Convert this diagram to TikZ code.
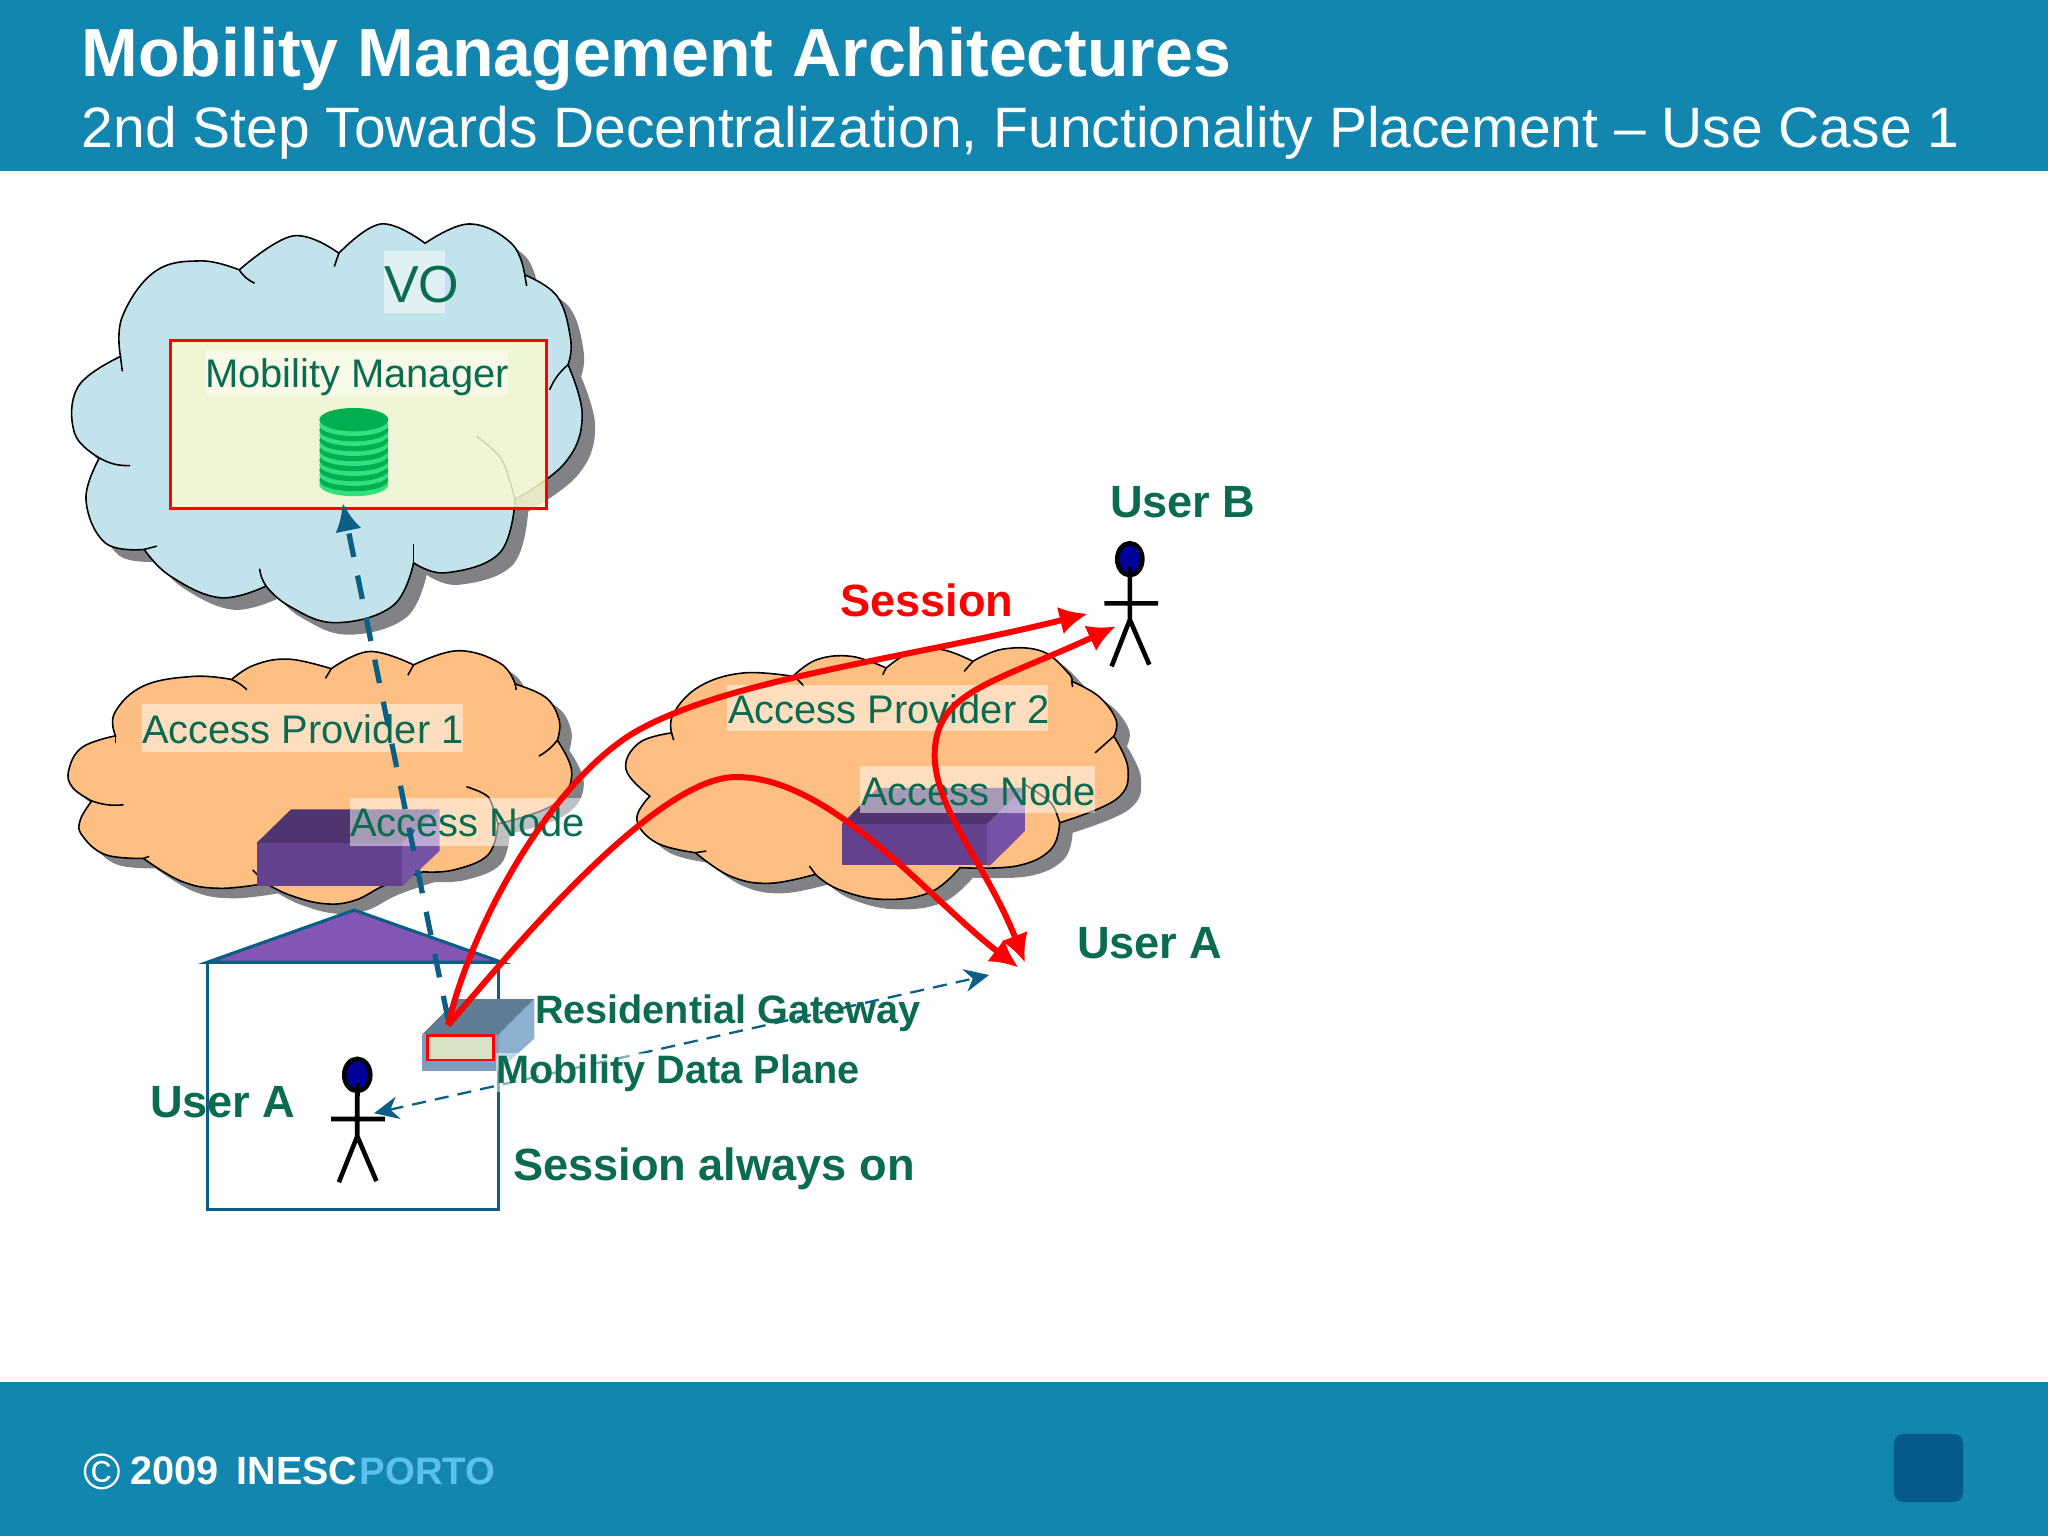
\documentclass[tikz,border=0pt]{standalone}
\usepackage{fontspec}
\setmainfont{Liberation Sans}
\usetikzlibrary{arrows.meta}
\definecolor{bar}{HTML}{1286AF}
\definecolor{tgreen}{HTML}{0B6B50}
\definecolor{navy}{HTML}{0B5F86}
\definecolor{shadowgray}{HTML}{808285}
\definecolor{skyc}{HTML}{C2E3EC}
\definecolor{orangec}{HTML}{FFBE82}
\tikzset{
 zone/.style={shift={(40,200)},x=0.003827cm,y=-0.003333cm},
 zonetwo/.style={shift={(40,640)},x=0.003827cm,y=-0.003827cm},
 zonefour/.style={shift={(600,460)},x=0.004337cm,y=-0.003333cm},
 lobe/.style={smooth,tension=.68},
 lbl/.style={anchor=base west,inner sep=0pt,outer sep=0pt,text=tgreen},
 reg/.style={lbl,font=\fontsize{11.35}{13}\selectfont},
 bld/.style={lbl,font=\fontsize{11.27}{14}\selectfont\bfseries},
 bldb/.style={lbl,font=\fontsize{12.85}{15}\selectfont\bfseries},
 hl/.style={fill=white,opacity=.5},
 cl/.style={draw=black,line width=.45pt},
 person/.style={draw=black,line width=1.3pt},
 redcurve/.style={draw=red,line width=1.7pt,line join=round},
 redtip/.style={-{Latex[length=8pt,width=8pt]}},
 redtips/.style={{Latex[length=8pt,width=8pt]}-{Latex[length=8pt,width=8pt]}},
}
\def\cloudVO{plot[lobe] coordinates {(210,470)(215,350)(300,215)(420,183)(520,210)}
 -- plot[lobe] coordinates {(520,210)(660,108)(780,160)}
 -- plot[lobe] coordinates {(780,160)(890,72)(1005,130)}
 -- plot[lobe] coordinates {(1005,130)(1120,72)(1230,130)(1265,225)}
 -- plot[lobe] coordinates {(1265,225)(1350,290)(1385,420)(1378,495)}
 -- plot[lobe] coordinates {(1378,495)(1415,650)(1370,790)(1240,900)}
 -- plot[lobe] coordinates {(1240,900)(1200,1060)(1060,1120)(975,1090)}
 -- plot[lobe] coordinates {(975,1090)(920,1220)(770,1270)(650,1220)(590,1160)}
 -- plot[lobe] coordinates {(590,1160)(470,1195)(340,1130)(272,1050)}
 -- plot[lobe] coordinates {(272,1050)(170,1030)(120,900)(155,775)}
 -- plot[lobe] coordinates {(155,775)(90,700)(100,560)(210,470)} -- cycle}
\def\cloudA{plot[lobe] coordinates {(197,250)(195,190)(270,120)(400,95)(500,103)}
 -- plot[lobe] coordinates {(500,103)(560,65)(650,50)(760,75)}
 -- plot[lobe] coordinates {(760,75)(860,30)(975,65)}
 -- plot[lobe] coordinates {(975,65)(1090,28)(1200,60)(1240,115)}
 -- plot[lobe] coordinates {(1240,115)(1320,150)(1355,210)(1350,262)}
 -- plot[lobe] coordinates {(1350,262)(1388,350)(1340,430)(1195,480)}
 -- plot[lobe] coordinates {(1195,480)(1170,560)(1080,600)(1000,605)}
 -- plot[lobe] coordinates {(1000,605)(900,640)(820,680)(740,688)(650,665)(590,635)}
 -- plot[lobe] coordinates {(590,635)(470,648)(370,630)(270,570)}
 -- plot[lobe] coordinates {(270,570)(170,560)(110,510)(105,470)(135,420)}
 -- plot[lobe] coordinates {(135,420)(85,385)(75,340)(110,280)(197,250)} -- cycle}
\def\cloudB{plot[lobe] coordinates {(165,820)(170,760)(230,680)(330,640)(445,650)}
 -- plot[lobe] coordinates {(445,650)(500,600)(580,590)(660,625)}
 -- plot[lobe] coordinates {(660,625)(720,575)(790,570)(860,605)}
 -- plot[lobe] coordinates {(860,605)(930,568)(1020,575)(1080,640)(1088,665)}
 -- plot[lobe] coordinates {(1088,665)(1150,710)(1190,780)(1185,830)}
 -- plot[lobe] coordinates {(1185,830)(1218,930)(1190,1020)(1060,1090)}
 -- plot[lobe] coordinates {(1060,1090)(1040,1170)(960,1220)(830,1225)}
 -- plot[lobe] coordinates {(830,1225)(760,1300)(650,1320)(550,1290)(497,1245)}
 -- plot[lobe] coordinates {(497,1245)(390,1272)(300,1250)(220,1180)}
 -- plot[lobe] coordinates {(220,1180)(130,1150)(85,1080)(115,1010)}
 -- plot[lobe] coordinates {(115,1010)(60,930)(90,850)(165,820)} -- cycle}
\begin{document}
\begin{tikzpicture}[x=0.01cm,y=-0.01cm]
\useasboundingbox (0,0) rectangle (2048,1536);
\fill[white] (0,0) rectangle (2048,1536);
\fill[bar] (0,0) rectangle (2048,171);
\fill[bar] (0,1382) rectangle (2048,1536);
\fill[rounded corners=.09cm,fill={rgb,255:red,5;green,89;blue,139}] (1894,1434) rectangle (1963,1502);
\node[anchor=base west,inner sep=0pt,text=white,font=\fontsize{19.35}{22}\selectfont\bfseries] (title) at (81,76) {Mobility Management Architectures};
\node[anchor=base west,inner sep=0pt,text=white,font=\fontsize{16.2}{20}\selectfont] (subtitle) at (81,147) {2nd Step Towards Decentralization, Functionality Placement – Use Case 1};
\node[anchor=base west,inner sep=0pt,text=white,font=\fontsize{14.5}{16}\selectfont] (copy) at (83,1489) {©};
\node[anchor=base west,inner sep=0pt,text=white,font=\fontsize{11.3}{13}\selectfont\bfseries] (year) at (130,1484) {2009};
\node[anchor=base west,inner sep=0pt,text=white,font=\fontsize{11.2}{13}\selectfont\bfseries] (inesc) at (236,1484) {INESC};
\node[anchor=base west,inner sep=0pt,text={rgb,255:red,91;green,192;blue,238},font=\fontsize{10.9}{13}\selectfont\bfseries] (porto) at (359,1484) {PORTO};
% VO cloud
\begin{scope}[zone]
 \fill[shadowgray,xshift=.13cm,yshift=-.12cm] \cloudVO;
 \fill[skyc] \cloudVO;
 \draw[cl] \cloudVO;
 \draw[cl] (520,210) to[bend right=15] (560,250);
 \draw[cl] (780,160) -- (768,200);
 \draw[cl] (1265,225) -- (1270,258);
 \draw[cl] (1378,495) to[bend right=12] (1330,570);
 \draw[cl] plot[smooth] coordinates {(1140,710)(1205,780)(1240,900)};
 \draw[cl] (975,1090) -- (975,1035);
 \draw[cl] (590,1160) to[bend left=12] (573,1108);
 \draw[cl] (272,1050) -- (305,1040);
 \draw[cl] (155,775) to[bend right=15] (235,798);
 \draw[cl] (210,470) -- (215,515);
 \fill[white,opacity=.5] (898,153) rectangle (1057,340);
 \fill[fill={rgb,255:red,248;green,250;blue,210},opacity=.85] (340,422) rectangle (1322,928);
 \fill[white,opacity=.45] (432,450) rectangle (1222,585);
 \draw[red,line width=.85pt] (340,422) rectangle (1322,928);
 % database
 \fill[fill={rgb,255:red,51;green,224;blue,127}] (730,668) rectangle (908,855);
 \fill[fill={rgb,255:red,51;green,224;blue,127}] (819,855) ellipse [x radius=90,y radius=35];
 \foreach \cy in {842,812,782,752,722,692} {
   \fill[fill={rgb,255:red,0;green,176;blue,80}] (819,\cy) ellipse [x radius=90,y radius=33];
   \fill[fill={rgb,255:red,51;green,224;blue,127}] (819,\cy-16) ellipse [x radius=90,y radius=33];
 }
 \fill[fill={rgb,255:red,0;green,176;blue,80}] (819,660) ellipse [x radius=90,y radius=35];
 \coordinate (mm) at (790,910);
\end{scope}
\node[lbl,font=\fontsize{14.8}{16}\selectfont] (vo) at (384,302) {VO};
\node[reg] (mmlabel) at (205,387) {Mobility Manager};
% AP1 cloud
\begin{scope}[zonetwo]
 \fill[shadowgray,xshift=.12cm,yshift=-.1cm] \cloudA;
 \fill[orangec] \cloudA;
 \draw[cl] \cloudA;
 \draw[cl] (500,103) to[bend left=10] (540,130);
 \draw[cl] (760,75) -- (745,100);
 \draw[cl] (975,65) -- (960,92);
 \draw[cl] (1240,115) -- (1243,130);
 \draw[cl] (1350,262) to[bend left=10] (1302,303);
 \draw[cl] plot[smooth] coordinates {(1113,383)(1170,410)(1195,480)};
 \draw[cl] (590,635) -- (555,600);
 \draw[cl] (270,570) -- (285,565);
 \draw[cl] (135,420) to[bend right=12] (218,430);
 \draw[cl] (197,250) -- (197,270);
 \fill[fill={rgb,255:red,79;green,53;blue,112}] (565,530) -- (655,442) -- (1043,442) -- (945,530) -- cycle;
 \fill[fill={rgb,255:red,99;green,65;blue,143}] (565,530) rectangle (945,643);
 \fill[fill={rgb,255:red,119;green,83;blue,168}] (945,530) -- (1043,442) -- (1043,550) -- (945,643) -- cycle;
 \fill[hl] (267,168) rectangle (1105,293);
 \fill[hl] (808,413) rectangle (1415,538);
\end{scope}
\node[reg] (ap1) at (142,743) {Access Provider 1};
\node[reg] (an1) at (350,836) {Access Node};
% AP2 cloud
\begin{scope}[zonefour]
 \fill[shadowgray,xshift=.13cm,yshift=-.1cm] \cloudB;
 \fill[orangec] \cloudB;
 \draw[cl] \cloudB;
 \draw[cl] (445,650) to[bend left=10] (470,680);
 \draw[cl] (660,625) -- (652,645);
 \draw[cl] (860,605) -- (840,635);
 \draw[cl] (1088,665) -- (1090,682);
 \draw[cl] (1185,830) -- (1142,880);
 \draw[cl] plot[smooth] coordinates {(980,975)(1040,1030)(1060,1090)};
 \draw[cl] (830,1225) -- (850,1225);
 \draw[cl] (497,1245) -- (483,1220);
 \draw[cl] (220,1180) -- (245,1175);
 \draw[cl] (165,820) -- (170,842);
 \fill[fill={rgb,255:red,79;green,53;blue,112}] (557,1095) -- (640,985) -- (980,985) -- (892,1095) -- cycle;
 \fill[fill={rgb,255:red,99;green,65;blue,143}] (557,1095) rectangle (892,1218);
 \fill[fill={rgb,255:red,119;green,83;blue,168}] (892,1095) -- (980,985) -- (980,1115) -- (900,1218) -- (892,1218) -- cycle;
 \fill[hl] (293,675) rectangle (1033,815);
 \fill[hl] (600,918) rectangle (1142,1062);
\end{scope}
\node[reg] (ap2) at (728,723) {Access Provider 2};
\node[reg] (an2) at (861,805) {Access Node};
% House
\begin{scope}[zonetwo]
 \filldraw[draw=navy,fill={rgb,255:red,131;green,86;blue,182},line width=.9pt,line join=miter] (437,841) -- (820,705) -- (1205,841) -- cycle;
 \draw[navy,line width=.9pt] (437,841) rectangle (1197,1487);
 \fill[fill={rgb,255:red,95;green,125;blue,149}] (997,1030) -- (1090,937) -- (1290,937) -- (1197,1030) -- cycle;
 \fill[fill={rgb,255:red,127;green,156;blue,191}] (997,1030) rectangle (1197,1125);
 \fill[fill={rgb,255:red,139;green,176;blue,208}] (1197,1030) -- (1290,937) -- (1290,1040) -- (1197,1125) -- cycle;
 \filldraw[draw=red,fill={rgb,255:red,216;green,224;blue,197},line width=.8pt] (1011,1033) rectangle (1184,1096);
 % people
 \draw[person] (828,1150) -- (828,1295) (760,1250) -- (900,1250) (780,1415) -- (828,1295) -- (878,1412);
 \filldraw[person,fill={rgb,255:red,0;green,0;blue,153}] (828,1135) ellipse [x radius=34,y radius=42];
 \draw[person] (828,1155) -- (828,1190);
 \coordinate (gw) at (1065,990);
 \coordinate (gr) at (1065,1005);
 \coordinate (ua) at (872,1235);
\end{scope}
\begin{scope}[zonefour]
 \draw[person] (1222,320) -- (1222,480) (1163,431) -- (1287,431) (1180,620) -- (1222,480) -- (1267,615);
 \filldraw[person,fill={rgb,255:red,0;green,0;blue,153}] (1222,298) ellipse [x radius=29,y radius=48];
 \draw[person] (1222,320) -- (1222,345);
 \coordinate (ubtop) at (1125,462);
 \coordinate (ublow) at (1190,500);
 \coordinate (uatop) at (965,1525);
 \coordinate (uaright) at (980,1510);
\end{scope}
% thin dashed connector, faded below the data-plane label
\coordinate (far) at (989,975);
\draw[navy,line width=.65pt,dash pattern=on 4pt off 2.6pt,{Stealth[length=7pt,width=6.5pt]}-{Stealth[length=7pt,width=6.5pt]}] (ua) -- (far);
\fill[hl] (496,1053) rectangle (860,1092);
\node[bld] (rg) at (535,1023) {Residential Gateway};
\node[bld] (mdp) at (496,1083) {Mobility Data Plane};
\node[bldb] (sao) at (513,1180) {Session always on};
\node[bldb] (usera1) at (150,1117) {User A};
\node[bldb] (usera2) at (1077,958) {User A};
\node[bldb] (userb) at (1110,517) {User B};
\node[bldb,text=red] (sess) at (840,616) {Session};
% big dashed connector
\draw[navy,line width=1.5pt,dash pattern=on 6.8pt off 5.4pt,-{Latex[length=8pt,width=7.5pt]}] (gw) -- (mm);
% red session curves
\draw[redcurve,redtip] (gr) .. controls (470,930) and (545,790) .. (630,735) .. controls (720,680) and (900,660) .. (ubtop);
\draw[redcurve,redtip] (gr) .. controls (500,965) and (650,780) .. (734,777) .. controls (830,775) and (930,900) .. (uatop);
\draw[redcurve,redtips] (uaright) .. controls (985,860) and (925,800) .. (936,740) .. controls (945,690) and (1000,680) .. (ublow);
\end{tikzpicture}
\end{document}
